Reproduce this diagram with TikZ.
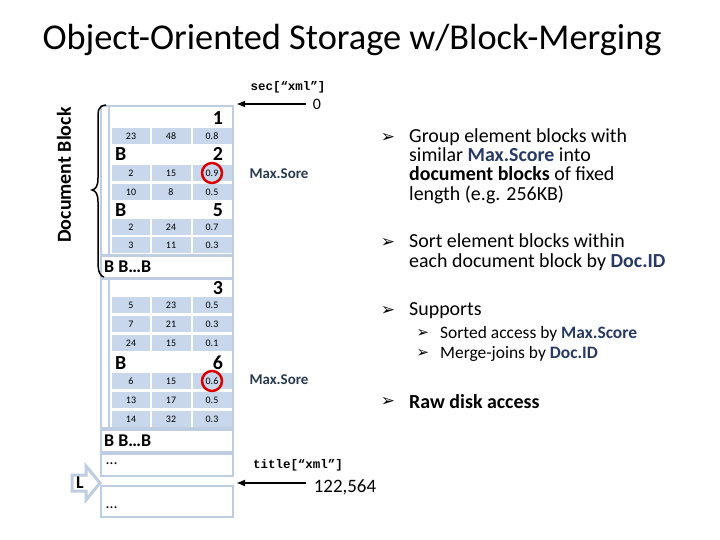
\documentclass[tikz,border=0pt]{standalone}
\usepackage{fontspec}
\usetikzlibrary{arrows.meta}
\setmainfont{Carlito}
\newfontfamily\mono{Liberation Mono}
\newfontfamily\dv{DejaVu Sans}
\definecolor{cellc}{RGB}{200,215,236}
\definecolor{framec}{RGB}{190,205,225}
\definecolor{maxc}{RGB}{40,58,80}
\definecolor{hl}{RGB}{40,58,100}
\begin{document}
\begin{tikzpicture}[x=1bp,y=-1bp,
  cell/.style={fill=cellc,draw=none},
  num/.style={font=\fontsize{10}{10}\selectfont,inner sep=0},
  hd/.style={font=\bfseries\fontsize{20}{20}\selectfont,inner sep=0},
  frm/.style={draw=framec,line width=2.5bp},
  bt/.style={font=\fontsize{20}{19.5}\selectfont,anchor=west,inner sep=0,align=left},
  sb/.style={font=\fontsize{17.5}{20}\selectfont,anchor=west,inner sep=0},
  bul/.style={font=\dv\fontsize{17}{17}\selectfont,inner sep=0},
  arr/.style={-{Latex[length=9bp,width=7bp]},line width=2bp}]
\useasboundingbox (0,0) rectangle (720,540);
\node[font=\fontsize{36.5}{36.5}\selectfont] (title) at (352,40) {Object-Oriented Storage w/Block-Merging};
% frames
\draw[frm] (101,106) rectangle (233,255);
\draw[frm] (109,106) -- (109,255);
\draw[frm] (101,256) rectangle (233,278);
\draw[frm] (101,279) rectangle (233,428);
\draw[frm] (109,279) -- (109,428);
\draw[frm] (101,430) rectangle (233,452);
\draw[frm] (101,454) rectangle (233,476);
\draw[frm] (101,486) rectangle (233,517);
\foreach \y/\a/\b/\c [count=\i] in {128/23/48/0.8,165/2/15/0.9,184/10/8/0.5,219/2/24/0.7,237/3/11/0.3,
  297/5/23/0.5,316/7/21/0.3,335/24/15/0.1,373/6/15/0.6,392/13/17/0.5,411/14/32/0.3}{
  \fill[cellc] (112,\y) rectangle (150,\y+16);
  \fill[cellc] (152,\y) rectangle (191,\y+16);
  \fill[cellc] (193,\y) rectangle (232,\y+16);
  \node[num] (a\i) at (131,\y+8) {\a};
  \node[num] (b\i) at (171,\y+8) {\b};
  \node[num] (c\i) at (212,\y+8) {\c};
}
\node[hd] (h1) at (218,118) {1};
\node[hd] (h2) at (218,154) {2};
\node[hd] (h5) at (218,210) {5};
\node[hd] (h3) at (218,288) {3};
\node[hd] (h6) at (218,363) {6};
\node[hd,anchor=west] (hb1) at (115,154) {B};
\node[hd,anchor=west] (hb2) at (115,210) {B};
\node[hd,anchor=west] (hb3) at (115,363) {B};
\node[font=\bfseries\fontsize{18}{18}\selectfont,anchor=west,inner sep=0] (bb1) at (104,267) {B B\ldots B};
\node[font=\bfseries\fontsize{18}{18}\selectfont,anchor=west,inner sep=0] (bb2) at (104,441) {B B\ldots B};
\node[font=\fontsize{16}{16}\selectfont,anchor=west,inner sep=0] (d1) at (106,464) {\ldots};
\node[font=\fontsize{16}{16}\selectfont,anchor=west,inner sep=0] (d2) at (106,508) {\ldots};
\draw[red!85!black,line width=2.5bp] (c2) circle (10);
\draw[red!85!black,line width=2.5bp] (c9) circle (10);
% brace
\draw[line width=1.5bp] (106,105) .. controls (98,106) and (98,110) .. (98,120) -- (98,178)
  .. controls (98,186) and (96,189) .. (92,190) .. controls (96,191) and (98,194) .. (98,202) -- (98,262)
  .. controls (98,272) and (100,276) .. (104,277);
\node[rotate=90,font=\bfseries\fontsize{20}{20}\selectfont] (db) at (64,175) {Document Block};
% L arrow
\draw[draw=framec,fill=white,line width=3bp] (72,475) -- (86,475) -- (86,466) -- (100,483) -- (86,500) -- (86,491) -- (72,491) -- cycle;
\node[font=\bfseries\fontsize{18}{18}\selectfont] (L) at (80,483) {L};
% pointers
\node[font=\mono\bfseries\fontsize{12.5}{12.5}\selectfont] (sec) at (288,87) {sec[“xml”]};
\node[font=\fontsize{16}{16}\selectfont] (zero) at (317,104) {0};
\coordinate (p0) at (236,104);
\coordinate (q0) at (306,104);
\draw[arr] (q0) -- (p0);
\node[font=\mono\bfseries\fontsize{12.5}{12.5}\selectfont] (tit) at (298,465) {title[“xml”]};
\node[font=\fontsize{19}{19}\selectfont] (num) at (345,487) {122,564};
\coordinate (p1) at (236,483);
\coordinate (q1) at (306,483);
\draw[arr] (q1) -- (p1);
\node[font=\bfseries\fontsize{15}{15}\selectfont,text=maxc] (m1) at (279,174) {Max.Sore};
\node[font=\bfseries\fontsize{15}{15}\selectfont,text=maxc] (m2) at (279,380) {Max.Sore};
% bullets
\node[bul] (u1) at (388,138) {➢};
\node[bt] (t1) at (409,166) {Group element blocks with\\similar \textcolor{hl}{\bfseries Max.Score} into\\\textbf{document blocks} of fixed\\length (e.g. 256KB)};
\node[bul] (u2) at (388,243) {➢};
\node[bt] (t2) at (409,252) {Sort element blocks within\\each document block by \textcolor{hl}{\bfseries Doc.ID}};
\node[bul] (u3) at (388,311) {➢};
\node[bt] (t3) at (409,311) {Supports};
\node[bul,font=\dv\fontsize{15}{15}\selectfont] (u4) at (423,334) {➢};
\node[sb] (t4) at (440,334) {Sorted access by \textcolor{hl}{\bfseries Max.Score}};
\node[bul,font=\dv\fontsize{15}{15}\selectfont] (u5) at (423,354) {➢};
\node[sb] (t5) at (440,354) {Merge-joins by \textcolor{hl}{\bfseries Doc.ID}};
\node[bul] (u6) at (388,402) {➢};
\node[bt,font=\bfseries\fontsize{20}{19.5}\selectfont] (t6) at (409,402) {Raw disk access};
\end{tikzpicture}
\end{document}
